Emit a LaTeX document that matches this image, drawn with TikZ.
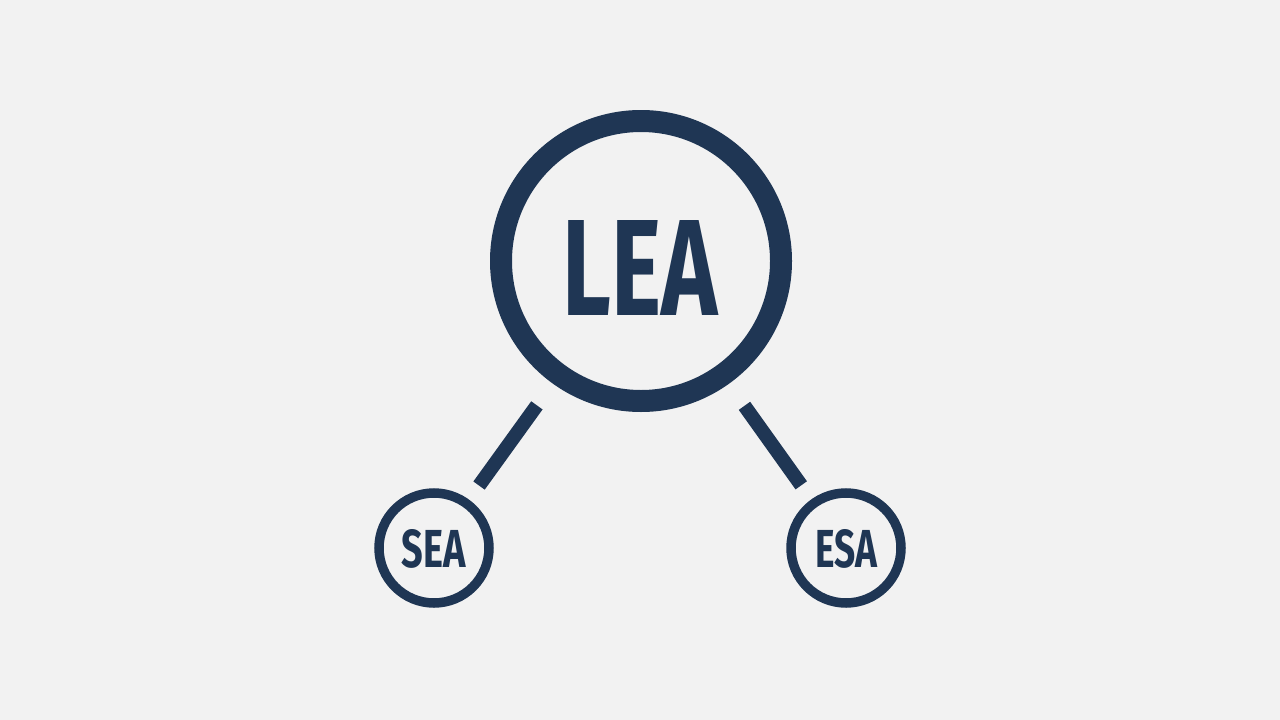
\documentclass[tikz,border=0pt]{standalone}
\usepackage{fontspec}
\setmainfont{Fira Sans}
\definecolor{navy}{HTML}{1F3654}
\definecolor{bg}{HTML}{F2F2F2}
\begin{document}
\begin{tikzpicture}[x=1pt,y=-1pt,
  bigring/.style={circle,draw=navy,line width=22pt,minimum size=280pt,inner sep=0pt},
  smallring/.style={circle,draw=navy,line width=9.5pt,minimum size=110pt,inner sep=0pt},
  lbl/.style={text=navy,inner sep=0pt,font=\bfseries},
  link/.style={navy,line width=14pt,line cap=butt}]
\fill[bg] (0,0) rectangle (1280,720);
\useasboundingbox (0,0) rectangle (1280,720);
\node[bigring] (lea) at (641,261) {};
\node[smallring] (sea) at (434,548) {};
\node[smallring] (esa) at (846,548) {};
\node[lbl] (leat) at (640.5,267.5) {\resizebox{155pt}{95pt}{LEA}};
\node[lbl] (seat) at (434,549) {\resizebox{64pt}{38pt}{SEA}};
\node[lbl] (esat) at (846,549) {\resizebox{62pt}{38pt}{ESA}};
\draw[link,shorten <=178pt,shorten >=77pt] (lea.center) -- (sea.center);
\draw[link,shorten <=178pt,shorten >=77pt] (lea.center) -- (esa.center);
\end{tikzpicture}
\end{document}
